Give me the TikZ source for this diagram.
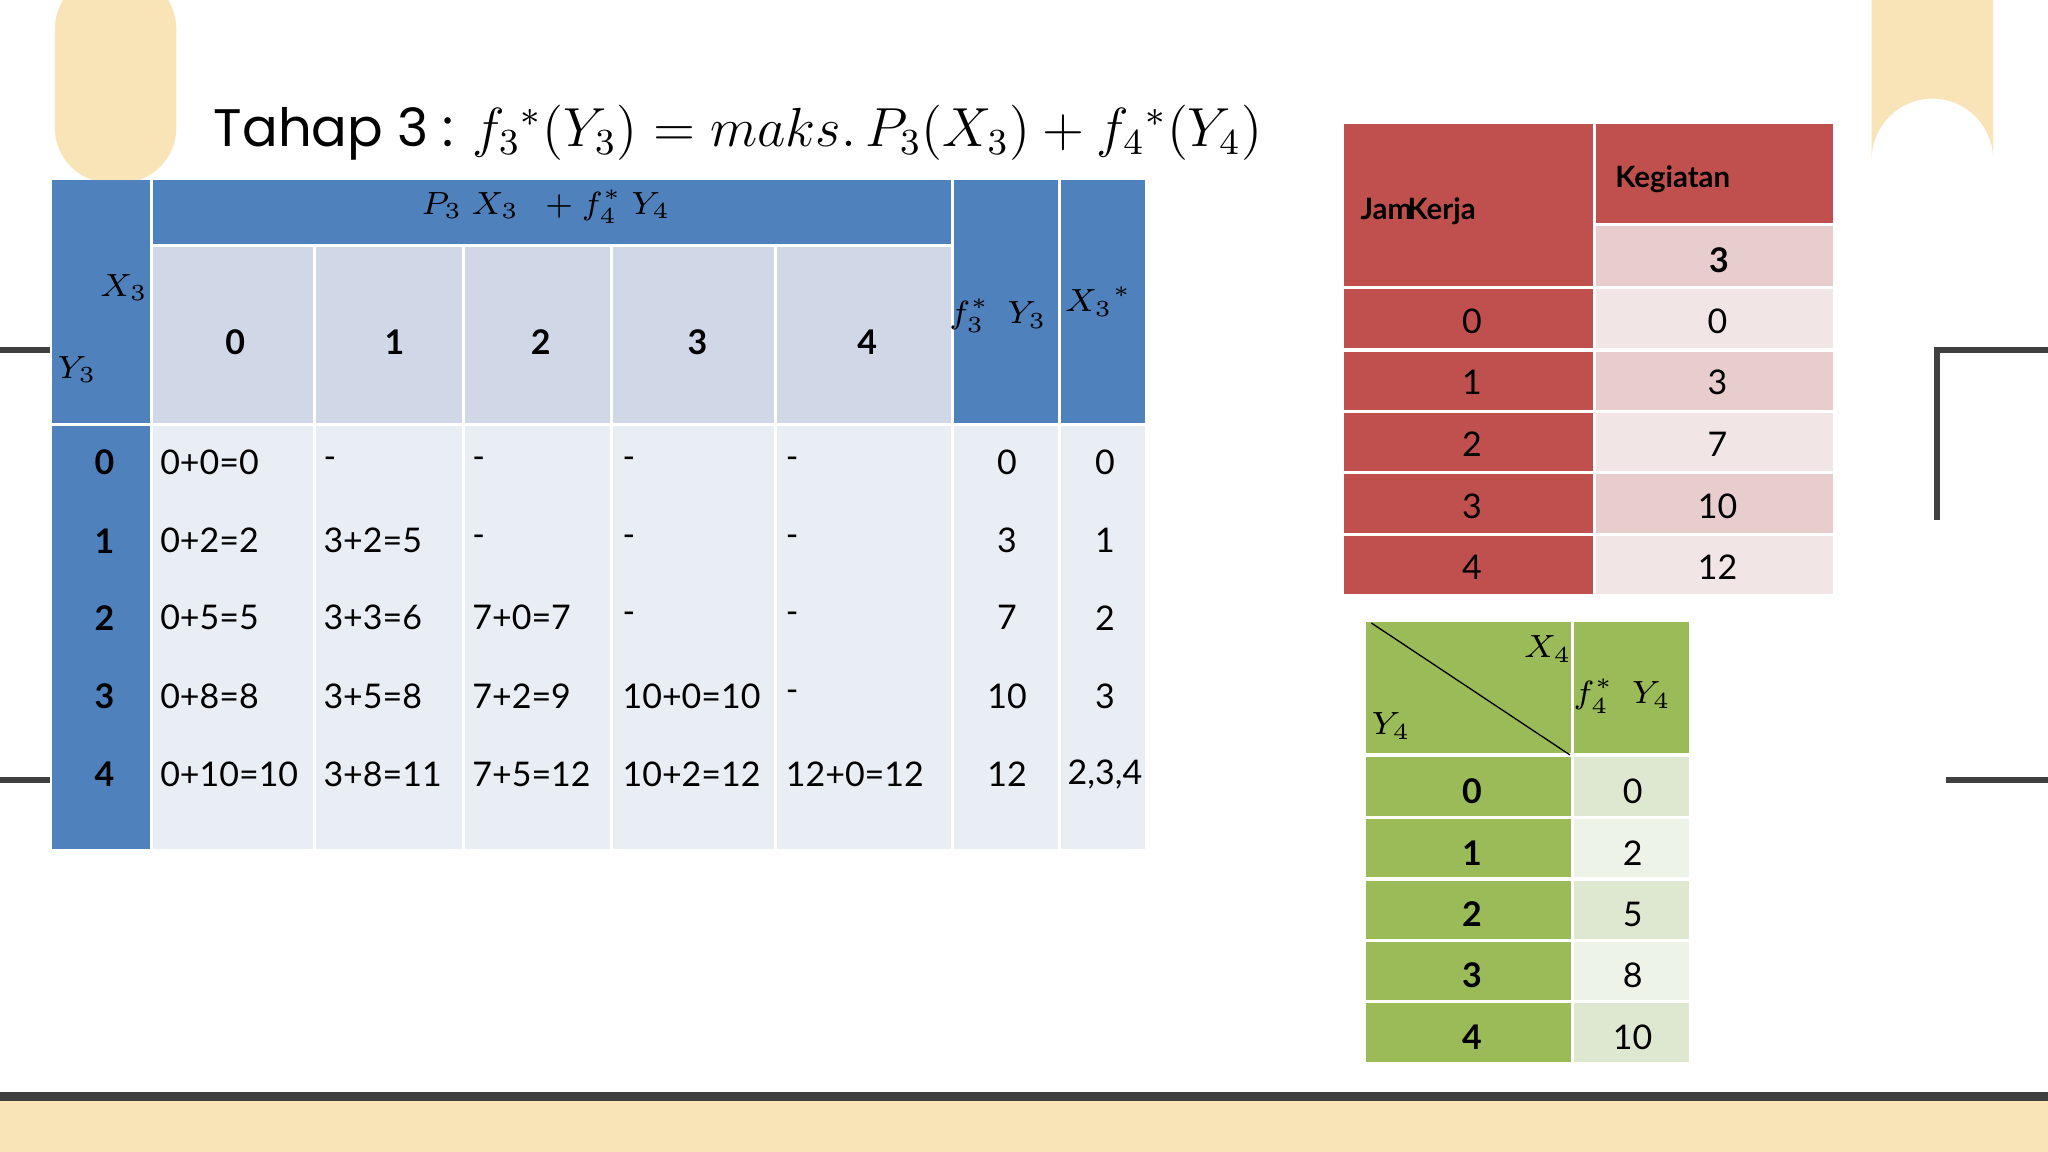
\documentclass[tikz,border=0pt]{standalone}
\usepackage{fontspec}
\setmainfont{Lato}
\newfontfamily\titlefont{Poppins}
\definecolor{beige}{HTML}{F9E4B7}
\definecolor{dgray}{HTML}{404040}
\definecolor{tblue}{HTML}{4F81BD}
\definecolor{lblue}{HTML}{D0D8E8}
\definecolor{llblue}{HTML}{E9EDF4}
\definecolor{tred}{HTML}{C0504D}
\definecolor{pinkA}{HTML}{E8CDCD}
\definecolor{pinkB}{HTML}{F2E5E5}
\definecolor{tgreen}{HTML}{9BBB59}
\definecolor{gA}{HTML}{DEE7D0}
\definecolor{gB}{HTML}{EEF3E7}
\tikzset{txt/.style={inner sep=0pt,font=\fontsize{7.4}{8}\selectfont},
 btxt/.style={txt,font=\fontsize{7.4}{8}\selectfont\bfseries},
 sep/.style={white,line width=0.25mm},
 brk/.style={dgray,line width=0.5mm}}
\begin{document}
\begin{tikzpicture}[x=0.1mm,y=-0.1mm]
\useasboundingbox (0,0) rectangle (1568,882);
\fill[white] (0,0) rectangle (1568,882);
% decorations
\fill[beige,rounded corners=12] (42,-20) rectangle (135,140);
\fill[beige] (1433,0) -- (1433,122) arc[start angle=180,end angle=360,radius=46.5] -- (1526,0) -- cycle;
\fill[beige] (0,843) rectangle (1568,882);
\fill[dgray] (0,836) rectangle (1568,843);
\draw[brk] (0,268) -- (38,268);
\draw[brk] (0,597) -- (38,597);
\draw[brk] (1568,268) -- (1483,268) -- (1483,398);
\draw[brk] (1490,597) -- (1568,597);
% title
\node[anchor=base west,inner sep=0pt,font=\fontsize{11.5}{13}\selectfont] (title) at (163,112)
 {{\titlefont Tahap 3 : }$f_3{}^*(Y_3) = maks.\,P_3(X_3) + f_4{}^*(Y_4)$};
% main table
\fill[llblue] (40,138) rectangle (877,650);
\fill[tblue] (40,138) rectangle (729,188);
\fill[tblue] (729,138) rectangle (877,325);
\fill[tblue] (40,188) rectangle (116,650);
\fill[lblue] (116,188) rectangle (729,325);
\draw[sep] (116,138) -- (116,650);
\draw[sep] (116,188) -- (729,188);
\draw[sep] (729,138) -- (729,650);
\draw[sep] (811,138) -- (811,650);
\draw[sep] (40,325) -- (877,325);
\foreach \x in {241,355,468,594} \draw[sep] (\x,188) -- (\x,650);
\node[txt,font=\fontsize{7.4}{8}\selectfont] (hdr) at (418,158) {$P_3\ X_3\ \ + f_4^*\ Y_4$};
\node[txt] (x3l) at (95,220) {$X_3$};
\node[txt] (y3l) at (59,283) {$Y_3$};
\node[txt] (fh) at (764,242) {$f_3^*\ \ Y_3$};
\node[txt] (xh) at (841,231) {$X_3{}^*$};
\foreach \c/\x in {0/180,1/302,2/414,3/534,4/664} \node[btxt] (h\c) at (\x,262) {\c};
\foreach \r/\y in {0/354,1/414,2/473,3/533,4/593} \node[btxt] (r\r) at (80,\y) {\r};
\foreach \y/\a/\b/\c/\d/\e/\f/\g in {354/0+0=0/-/-/-/-/0/0, 414/0+2=2/3+2=5/-/-/-/3/1, 473/0+5=5/3+3=6/7+0=7/-/-/7/2, 533/0+8=8/3+5=8/7+2=9/10+0=10/-/10/3, 593/0+10=10/3+8=11/7+5=12/10+2=12/12+0=12/12/{2,3,4}}{
 \node[txt,anchor=west] at (122,\y) {\a};
 \node[txt,anchor=west] at (247,\y) {\b};
 \node[txt,anchor=west] at (361,\y) {\c};
 \node[txt,anchor=west] at (476,\y) {\d};
 \node[txt,anchor=west] at (601,\y) {\e};
 \node[txt] at (771,\y) {\f};
 \node[txt] at (846,\y) {\g};
}
% red table
\fill[tred] (1029,95) rectangle (1221,455);
\fill[tred] (1221,95) rectangle (1403,172);
\foreach \y/\h/\col in {172/220/pinkA,220/268/pinkB,268/315/pinkA,315/362/pinkB,362/409/pinkA,409/455/pinkB}
 \fill[\col] (1221,\y) rectangle (1403,\h);
\draw[sep] (1221,95) -- (1221,455);
\draw[sep] (1221,172) -- (1403,172);
\foreach \y in {220,268,315,362,409} \draw[sep] (1029,\y) -- (1403,\y);
\node[txt,font=\fontsize{6.4}{7}\selectfont\bfseries,anchor=west] (jk) at (1041,162) {Jam\kern-1pt Kerja};
\node[txt,font=\fontsize{6.4}{7}\selectfont\bfseries,anchor=west] (kg) at (1236,137) {Kegiatan};
\node[btxt] (k3) at (1316,199) {3};
\foreach \v/\w/\y in {0/0/246,1/3/293,2/7/340,3/10/388,4/12/434}{
 \node[txt] at (1127,\y) {\v};
 \node[txt] at (1315,\y) {\w};
}
% green table
\fill[tgreen] (1046,476) rectangle (1204,813);
\fill[tgreen] (1204,476) rectangle (1293,578);
\foreach \y/\h/\col in {578/626/gA,626/673/gB,673/720/gA,720/767/gB,767/813/gA}
 \fill[\col] (1204,\y) rectangle (1293,\h);
\draw[sep] (1204,476) -- (1204,813);
\foreach \y in {578,626,673,720,767} \draw[sep] (1046,\y) -- (1293,\y);
\draw[black,line width=0.1mm] (1050,477) -- (1202,578);
\node[txt] (x4) at (1185,497) {$X_4$};
\node[txt] (y4) at (1065,556) {$Y_4$};
\node[txt] (f4) at (1242,533) {$f_4^*\ \ Y_4$};
\foreach \v/\w/\y in {0/0/606,1/2/653,2/5/700,3/8/747,4/10/794}{
 \node[btxt] at (1127,\y) {\v};
 \node[txt] at (1250,\y) {\w};
}
\end{tikzpicture}
\end{document}
